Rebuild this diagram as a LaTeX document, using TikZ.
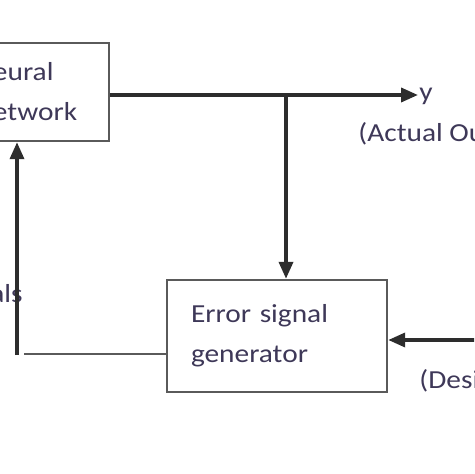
\documentclass[tikz,border=0pt]{standalone}
\usepackage{fontspec}
\newfontfamily\diagfont[FakeStretch=1.13]{Carlito}
\usepackage{tikz}
\usetikzlibrary{
	arrows.meta,
	calc,
	positioning,
}
\definecolor{textc}{RGB}{62,56,88}
\definecolor{linec}{RGB}{45,45,45}
\definecolor{boxc}{RGB}{90,90,90}
\tikzset{block/.style={draw=boxc,line width=1.2pt,rectangle,inner xsep=12pt,inner ysep=0pt,align=left,font=\diagfont\fontsize{13}{20}\selectfont,text=textc,}}
\tikzset{txt/.style={inner sep=0pt,font=\diagfont\fontsize{13}{20}\selectfont,text=textc,}}
\tikzset{sig/.style={linec,line width=1.8pt,}}
\tikzset{thin sig/.style={boxc,line width=1.2pt,}}
\tikzset{
	>={Triangle[length=8.5pt,width=7pt]},
}

\begin{document}
\begin{tikzpicture}[x=0.5pt,y=-0.5pt]
\useasboundingbox (0,0) rectangle (474,474);
\clip (0,0) rectangle (474,474);

\node[block,minimum width=79.5pt,minimum height=49pt,text width=55.5pt](net) at(29.5,92) {Neural\\Network};
\node[block,minimum width=110pt,minimum height=56pt,text width=86pt](err) at(277,336) {Error signal\\generator};

\coordinate(split) at(286,95);
\coordinate(out) at(418,95);
\coordinate(des) at(480,340);
\coordinate(fbturn) at(17,355);
\coordinate(fbend) at(24,354);

\node[txt,anchor=west](y) at(419,96) {y};
\node[txt,anchor=base west](actual) at(358,142) {(Actual Output)};
\node[txt,anchor=base west](desired) at(419,388) {(Desired Output)};
\node[txt,anchor=base east](signals) at(23,303) {signals};

\draw[sig,->] (net.east |- out) -- (out);
\draw[sig,->] (split) -- (split |- err.north);
\draw[sig,->] (des) -- (des -| err.east);
\draw[thin sig] (err.west |- fbend) -- (fbend);
\draw[sig,->] (fbturn) -- (fbturn |- net.south);

\end{tikzpicture}
\end{document}
